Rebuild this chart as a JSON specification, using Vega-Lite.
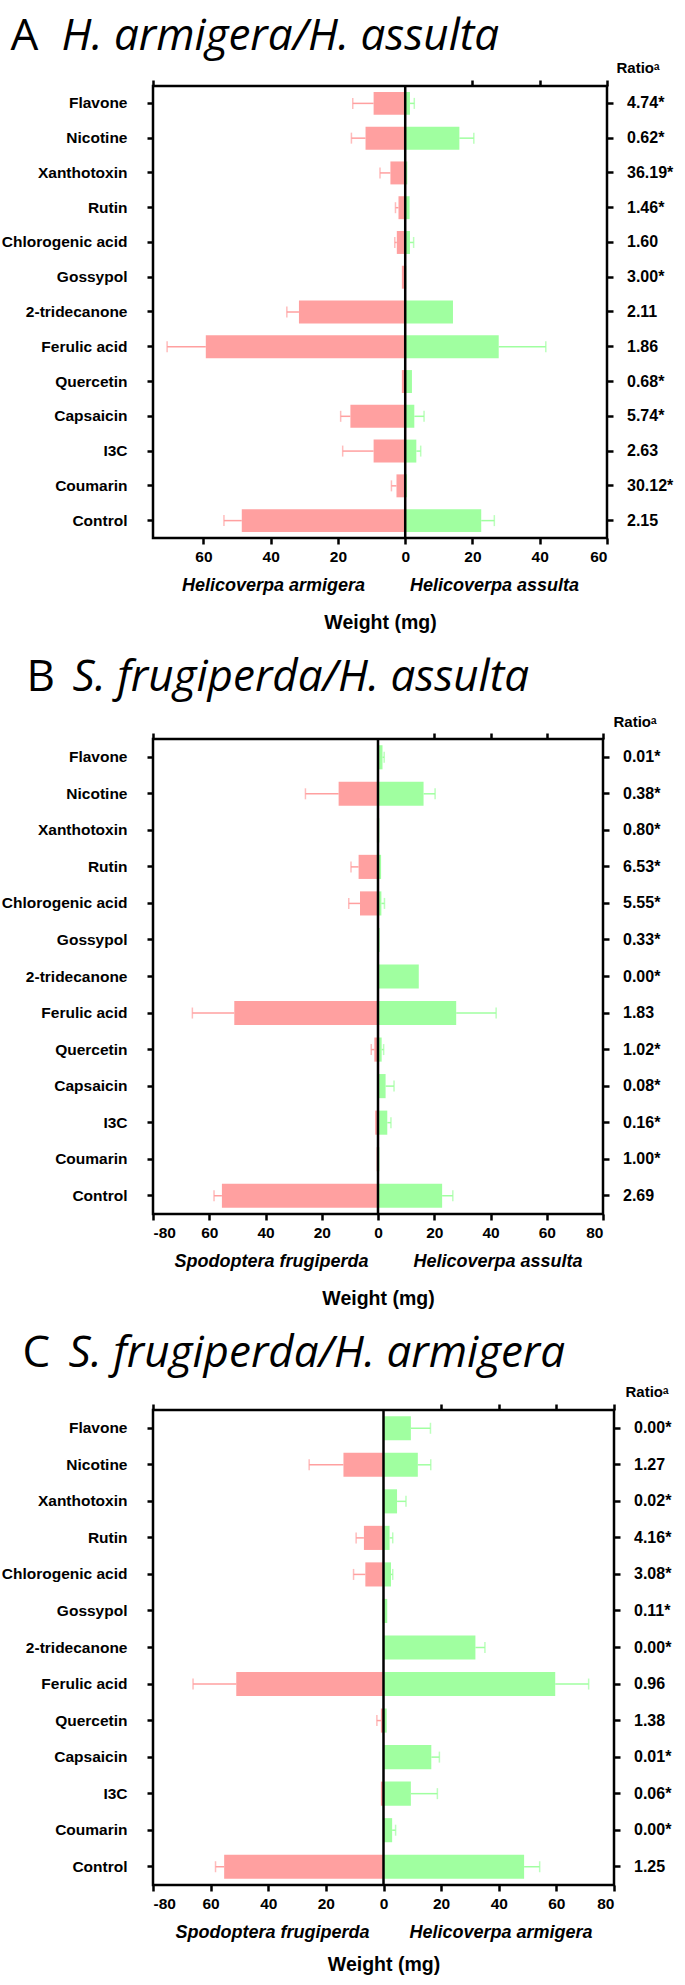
{
"$schema": "https://vega.github.io/schema/vega-lite/v6.json",
"padding": {"left": 0, "top": 12, "right": 0, "bottom": 0},
"background": "white",
"config": {"view": {"stroke": "black", "strokeWidth": 2.5}, "concat": {"spacing": 20}},
"datasets": {
"A": [
{"compound": "Flavone", "side": "L", "w": -9.4, "end": -15.6},
{"compound": "Flavone", "side": "R", "w": 1.4, "end": 2.7},
{"compound": "Nicotine", "side": "L", "w": -11.8, "end": -16.0},
{"compound": "Nicotine", "side": "R", "w": 16.1, "end": 20.4},
{"compound": "Xanthotoxin", "side": "L", "w": -4.4, "end": -7.5},
{"compound": "Xanthotoxin", "side": "R", "w": 0.6, "end": null},
{"compound": "Rutin", "side": "L", "w": -2.0, "end": -2.9},
{"compound": "Rutin", "side": "R", "w": 1.3, "end": null},
{"compound": "Chlorogenic acid", "side": "L", "w": -2.5, "end": -3.1},
{"compound": "Chlorogenic acid", "side": "R", "w": 1.4, "end": 2.5},
{"compound": "Gossypol", "side": "L", "w": -1.0, "end": null},
{"compound": "Gossypol", "side": "R", "w": 0.3, "end": null},
{"compound": "2-tridecanone", "side": "L", "w": -31.6, "end": -35.2},
{"compound": "2-tridecanone", "side": "R", "w": 14.2, "end": null},
{"compound": "Ferulic acid", "side": "L", "w": -59.3, "end": -70.8},
{"compound": "Ferulic acid", "side": "R", "w": 27.8, "end": 41.8},
{"compound": "Quercetin", "side": "L", "w": -1.0, "end": null},
{"compound": "Quercetin", "side": "R", "w": 2.0, "end": null},
{"compound": "Capsaicin", "side": "L", "w": -16.3, "end": -19.2},
{"compound": "Capsaicin", "side": "R", "w": 2.7, "end": 5.6},
{"compound": "I3C", "side": "L", "w": -9.4, "end": -18.6},
{"compound": "I3C", "side": "R", "w": 3.3, "end": 4.6},
{"compound": "Coumarin", "side": "L", "w": -2.6, "end": -4.1},
{"compound": "Coumarin", "side": "R", "w": 0.5, "end": null},
{"compound": "Control", "side": "L", "w": -48.6, "end": -53.9},
{"compound": "Control", "side": "R", "w": 22.6, "end": 26.5}
],
"Ar": [
{"compound": "Flavone", "ratio": "4.74*"},
{"compound": "Nicotine", "ratio": "0.62*"},
{"compound": "Xanthotoxin", "ratio": "36.19*"},
{"compound": "Rutin", "ratio": "1.46*"},
{"compound": "Chlorogenic acid", "ratio": "1.60"},
{"compound": "Gossypol", "ratio": "3.00*"},
{"compound": "2-tridecanone", "ratio": "2.11"},
{"compound": "Ferulic acid", "ratio": "1.86"},
{"compound": "Quercetin", "ratio": "0.68*"},
{"compound": "Capsaicin", "ratio": "5.74*"},
{"compound": "I3C", "ratio": "2.63"},
{"compound": "Coumarin", "ratio": "30.12*"},
{"compound": "Control", "ratio": "2.15"}
],
"B": [
{"compound": "Flavone", "side": "L", "w": 0, "end": null},
{"compound": "Flavone", "side": "R", "w": 1.6, "end": 2.2},
{"compound": "Nicotine", "side": "L", "w": -14.0, "end": -25.8},
{"compound": "Nicotine", "side": "R", "w": 16.2, "end": 20.3},
{"compound": "Xanthotoxin", "side": "L", "w": -0.4, "end": null},
{"compound": "Xanthotoxin", "side": "R", "w": 0.5, "end": null},
{"compound": "Rutin", "side": "L", "w": -6.9, "end": -9.6},
{"compound": "Rutin", "side": "R", "w": 1.1, "end": null},
{"compound": "Chlorogenic acid", "side": "L", "w": -6.4, "end": -10.4},
{"compound": "Chlorogenic acid", "side": "R", "w": 1.2, "end": 2.3},
{"compound": "Gossypol", "side": "L", "w": -0.2, "end": null},
{"compound": "Gossypol", "side": "R", "w": 0.6, "end": null},
{"compound": "2-tridecanone", "side": "L", "w": 0, "end": null},
{"compound": "2-tridecanone", "side": "R", "w": 14.5, "end": null},
{"compound": "Ferulic acid", "side": "L", "w": -51.1, "end": -66.0},
{"compound": "Ferulic acid", "side": "R", "w": 27.8, "end": 42.0},
{"compound": "Quercetin", "side": "L", "w": -1.3, "end": -2.4},
{"compound": "Quercetin", "side": "R", "w": 1.3, "end": 2.0},
{"compound": "Capsaicin", "side": "L", "w": -0.2, "end": null},
{"compound": "Capsaicin", "side": "R", "w": 2.7, "end": 5.7},
{"compound": "I3C", "side": "L", "w": -1.0, "end": null},
{"compound": "I3C", "side": "R", "w": 3.3, "end": 4.6},
{"compound": "Coumarin", "side": "L", "w": -0.5, "end": null},
{"compound": "Coumarin", "side": "R", "w": 0.5, "end": null},
{"compound": "Control", "side": "L", "w": -55.5, "end": -58.3},
{"compound": "Control", "side": "R", "w": 22.8, "end": 26.6}
],
"Br": [
{"compound": "Flavone", "ratio": "0.01*"},
{"compound": "Nicotine", "ratio": "0.38*"},
{"compound": "Xanthotoxin", "ratio": "0.80*"},
{"compound": "Rutin", "ratio": "6.53*"},
{"compound": "Chlorogenic acid", "ratio": "5.55*"},
{"compound": "Gossypol", "ratio": "0.33*"},
{"compound": "2-tridecanone", "ratio": "0.00*"},
{"compound": "Ferulic acid", "ratio": "1.83"},
{"compound": "Quercetin", "ratio": "1.02*"},
{"compound": "Capsaicin", "ratio": "0.08*"},
{"compound": "I3C", "ratio": "0.16*"},
{"compound": "Coumarin", "ratio": "1.00*"},
{"compound": "Control", "ratio": "2.69"}
],
"C": [
{"compound": "Flavone", "side": "L", "w": 0, "end": null},
{"compound": "Flavone", "side": "R", "w": 9.5, "end": 16.3},
{"compound": "Nicotine", "side": "L", "w": -13.9, "end": -25.8},
{"compound": "Nicotine", "side": "R", "w": 11.9, "end": 16.4},
{"compound": "Xanthotoxin", "side": "L", "w": 0, "end": null},
{"compound": "Xanthotoxin", "side": "R", "w": 4.7, "end": 7.8},
{"compound": "Rutin", "side": "L", "w": -6.8, "end": -9.5},
{"compound": "Rutin", "side": "R", "w": 2.1, "end": 3.2},
{"compound": "Chlorogenic acid", "side": "L", "w": -6.3, "end": -10.4},
{"compound": "Chlorogenic acid", "side": "R", "w": 2.6, "end": 3.2},
{"compound": "Gossypol", "side": "L", "w": -0.3, "end": null},
{"compound": "Gossypol", "side": "R", "w": 1.3, "end": null},
{"compound": "2-tridecanone", "side": "L", "w": 0, "end": null},
{"compound": "2-tridecanone", "side": "R", "w": 31.9, "end": 35.2},
{"compound": "Ferulic acid", "side": "L", "w": -51.1, "end": -66.1},
{"compound": "Ferulic acid", "side": "R", "w": 59.6, "end": 71.2},
{"compound": "Quercetin", "side": "L", "w": -0.9, "end": -2.3},
{"compound": "Quercetin", "side": "R", "w": 1.1, "end": null},
{"compound": "Capsaicin", "side": "L", "w": 0, "end": null},
{"compound": "Capsaicin", "side": "R", "w": 16.6, "end": 19.4},
{"compound": "I3C", "side": "L", "w": -0.9, "end": null},
{"compound": "I3C", "side": "R", "w": 9.5, "end": 18.7},
{"compound": "Coumarin", "side": "L", "w": 0, "end": null},
{"compound": "Coumarin", "side": "R", "w": 3.0, "end": 4.2},
{"compound": "Control", "side": "L", "w": -55.3, "end": -58.3},
{"compound": "Control", "side": "R", "w": 48.8, "end": 54.2}
],
"Cr": [
{"compound": "Flavone", "ratio": "0.00*"},
{"compound": "Nicotine", "ratio": "1.27"},
{"compound": "Xanthotoxin", "ratio": "0.02*"},
{"compound": "Rutin", "ratio": "4.16*"},
{"compound": "Chlorogenic acid", "ratio": "3.08*"},
{"compound": "Gossypol", "ratio": "0.11*"},
{"compound": "2-tridecanone", "ratio": "0.00*"},
{"compound": "Ferulic acid", "ratio": "0.96"},
{"compound": "Quercetin", "ratio": "1.38"},
{"compound": "Capsaicin", "ratio": "0.01*"},
{"compound": "I3C", "ratio": "0.06*"},
{"compound": "Coumarin", "ratio": "0.00*"},
{"compound": "Control", "ratio": "1.25"}
]
},
"vconcat": [
{
"width": 454, "height": 452,
"resolve": {"scale": {"x": "shared", "y": "shared", "color": "shared"}, "axis": {"x": "independent", "y": "independent"}},
"layer": [
{"data": {"name": "A"}, "mark": {"type": "bar"}, "encoding": {
"y": {"field": "compound", "type": "nominal", "sort": ["Flavone","Nicotine","Xanthotoxin","Rutin","Chlorogenic acid","Gossypol","2-tridecanone","Ferulic acid","Quercetin","Capsaicin","I3C","Coumarin","Control"], "scale": {"paddingInner": 0.34, "paddingOuter": 0.17}, "axis": {"orient": "left", "domain": false, "tickSize": 6, "tickWidth": 2.5, "tickColor": "black", "labelPadding": 20, "labelFont": "Liberation Sans", "labelFontSize": 15.5, "labelFontWeight": "bold", "labelColor": "black", "title": "A", "titleAngle": 0, "titleAlign": "left", "titleBaseline": "alphabetic", "titleX": -143, "titleY": -37, "titleFont": "Open Sans", "titleFontSize": 44, "titleFontWeight": "normal", "titleColor": "black"}},
"x": {"field": "w", "type": "quantitative", "scale": {"domain": [-75, 60], "nice": false, "zero": false}, "axis": {"orient": "bottom", "values": [-60,-40,-20,0,20,40,60], "labelExpr": "format(abs(datum.value), 'd')", "grid": false, "domain": false, "tickSize": 6, "tickWidth": 2.5, "tickColor": "black", "labelPadding": 5, "labelFont": "Liberation Sans", "labelFontSize": 15.5, "labelFontWeight": "bold", "labelColor": "black", "title": "Helicoverpa armigera\u00a0\u00a0\u00a0\u00a0\u00a0\u00a0\u00a0\u00a0\u00a0Helicoverpa assulta", "titleFont": "Liberation Sans", "titleFontSize": 18, "titleFontStyle": "italic", "titleFontWeight": "bold", "titlePadding": 12, "titleColor": "black"}},
"x2": {"datum": 0},
"color": {"field": "side", "type": "nominal", "scale": {"domain": ["L","R"], "range": ["#FFA0A0","#A0FFA0"]}, "legend": null}
}},
{"data": {"name": "A"}, "transform": [{"filter": "isValid(datum.end)"}], "mark": {"type": "rule", "strokeWidth": 1.5}, "encoding": {
"y": {"field": "compound", "type": "nominal", "sort": ["Flavone","Nicotine","Xanthotoxin","Rutin","Chlorogenic acid","Gossypol","2-tridecanone","Ferulic acid","Quercetin","Capsaicin","I3C","Coumarin","Control"], "axis": null},
"x": {"field": "w", "type": "quantitative", "axis": null}, "x2": {"field": "end"},
"color": {"field": "side", "type": "nominal", "legend": null}}},
{"data": {"name": "A"}, "transform": [{"filter": "isValid(datum.end)"}], "mark": {"type": "tick", "thickness": 1.5, "size": 11}, "encoding": {
"y": {"field": "compound", "type": "nominal", "sort": ["Flavone","Nicotine","Xanthotoxin","Rutin","Chlorogenic acid","Gossypol","2-tridecanone","Ferulic acid","Quercetin","Capsaicin","I3C","Coumarin","Control"], "axis": null},
"x": {"field": "end", "type": "quantitative", "axis": null},
"color": {"field": "side", "type": "nominal", "legend": null}}},
{"data": {"values": [{}]}, "mark": {"type": "rule", "strokeWidth": 2.5, "color": "black"}, "encoding": {
"x": {"datum": 0, "type": "quantitative", "axis": {"orient": "top", "values": [-75,20,40,60], "labels": false, "domain": false, "grid": false, "tickSize": 6, "tickWidth": 2.5, "tickColor": "black", "title": "H. armigera/H. assulta", "titleAngle": 0, "titleAlign": "left", "titleBaseline": "alphabetic", "titleX": -92, "titleY": -37, "titleFont": "Open Sans", "titleFontSize": 44, "titleFontStyle": "italic", "titleFontWeight": "normal", "titleColor": "black"}}}},
{"data": {"name": "Ar"}, "mark": {"type": "text", "align": "left", "dx": 20, "font": "Liberation Sans", "fontSize": 16, "fontWeight": "bold", "color": "black"}, "encoding": {
"y": {"field": "compound", "type": "nominal", "sort": ["Flavone","Nicotine","Xanthotoxin","Rutin","Chlorogenic acid","Gossypol","2-tridecanone","Ferulic acid","Quercetin","Capsaicin","I3C","Coumarin","Control"], "axis": {"orient": "right", "labels": false, "domain": false, "grid": false, "tickSize": 6, "tickWidth": 2.5, "tickColor": "black", "title": "Ratioᵃ", "titleAngle": 0, "titleAlign": "left", "titleBaseline": "alphabetic", "titleX": 9, "titleY": -14, "titleFont": "Liberation Sans", "titleFontSize": 15, "titleFontWeight": "bold", "titleColor": "black"}},
"x": {"datum": 60, "type": "quantitative", "axis": {"orient": "bottom", "labels": false, "ticks": false, "domain": false, "grid": false, "title": "Weight (mg)", "titlePadding": 75, "titleFont": "Liberation Sans", "titleFontSize": 19.5, "titleFontWeight": "bold", "titleColor": "black"}},
"text": {"field": "ratio"}}}
]
},
{
"width": 450, "height": 475,
"resolve": {"scale": {"x": "shared", "y": "shared", "color": "shared"}, "axis": {"x": "independent", "y": "independent"}},
"layer": [
{"data": {"name": "B"}, "mark": {"type": "bar"}, "encoding": {
"y": {"field": "compound", "type": "nominal", "sort": ["Flavone","Nicotine","Xanthotoxin","Rutin","Chlorogenic acid","Gossypol","2-tridecanone","Ferulic acid","Quercetin","Capsaicin","I3C","Coumarin","Control"], "scale": {"paddingInner": 0.34, "paddingOuter": 0.17}, "axis": {"orient": "left", "domain": false, "tickSize": 6, "tickWidth": 2.5, "tickColor": "black", "labelPadding": 20, "labelFont": "Liberation Sans", "labelFontSize": 15.5, "labelFontWeight": "bold", "labelColor": "black", "title": "B", "titleAngle": 0, "titleAlign": "left", "titleBaseline": "alphabetic", "titleX": -127, "titleY": -49, "titleFont": "Open Sans", "titleFontSize": 44, "titleFontWeight": "normal", "titleColor": "black"}},
"x": {"field": "w", "type": "quantitative", "scale": {"domain": [-80, 80], "nice": false, "zero": false}, "axis": {"orient": "bottom", "values": [-80,-60,-40,-20,0,20,40,60,80], "labelExpr": "datum.value == -80 ? '-80' : format(abs(datum.value), 'd')", "grid": false, "domain": false, "tickSize": 6, "tickWidth": 2.5, "tickColor": "black", "labelPadding": 5, "labelFont": "Liberation Sans", "labelFontSize": 15.5, "labelFontWeight": "bold", "labelColor": "black", "title": "Spodoptera frugiperda\u00a0\u00a0\u00a0\u00a0\u00a0\u00a0\u00a0\u00a0\u00a0Helicoverpa assulta", "titleFont": "Liberation Sans", "titleFontSize": 18, "titleFontStyle": "italic", "titleFontWeight": "bold", "titlePadding": 12, "titleColor": "black"}},
"x2": {"datum": 0},
"color": {"field": "side", "type": "nominal", "scale": {"domain": ["L","R"], "range": ["#FFA0A0","#A0FFA0"]}, "legend": null}
}},
{"data": {"name": "B"}, "transform": [{"filter": "isValid(datum.end)"}], "mark": {"type": "rule", "strokeWidth": 1.5}, "encoding": {
"y": {"field": "compound", "type": "nominal", "sort": ["Flavone","Nicotine","Xanthotoxin","Rutin","Chlorogenic acid","Gossypol","2-tridecanone","Ferulic acid","Quercetin","Capsaicin","I3C","Coumarin","Control"], "axis": null},
"x": {"field": "w", "type": "quantitative", "axis": null}, "x2": {"field": "end"},
"color": {"field": "side", "type": "nominal", "legend": null}}},
{"data": {"name": "B"}, "transform": [{"filter": "isValid(datum.end)"}], "mark": {"type": "tick", "thickness": 1.5, "size": 11}, "encoding": {
"y": {"field": "compound", "type": "nominal", "sort": ["Flavone","Nicotine","Xanthotoxin","Rutin","Chlorogenic acid","Gossypol","2-tridecanone","Ferulic acid","Quercetin","Capsaicin","I3C","Coumarin","Control"], "axis": null},
"x": {"field": "end", "type": "quantitative", "axis": null},
"color": {"field": "side", "type": "nominal", "legend": null}}},
{"data": {"values": [{}]}, "mark": {"type": "rule", "strokeWidth": 2.5, "color": "black"}, "encoding": {
"x": {"datum": 0, "type": "quantitative", "axis": {"orient": "top", "values": [-80,20,40,60,80], "labels": false, "domain": false, "grid": false, "tickSize": 6, "tickWidth": 2.5, "tickColor": "black", "title": "S. frugiperda/H. assulta", "titleAngle": 0, "titleAlign": "left", "titleBaseline": "alphabetic", "titleX": -81, "titleY": -49, "titleFont": "Open Sans", "titleFontSize": 44, "titleFontStyle": "italic", "titleFontWeight": "normal", "titleColor": "black"}}}},
{"data": {"name": "Br"}, "mark": {"type": "text", "align": "left", "dx": 20, "font": "Liberation Sans", "fontSize": 16, "fontWeight": "bold", "color": "black"}, "encoding": {
"y": {"field": "compound", "type": "nominal", "sort": ["Flavone","Nicotine","Xanthotoxin","Rutin","Chlorogenic acid","Gossypol","2-tridecanone","Ferulic acid","Quercetin","Capsaicin","I3C","Coumarin","Control"], "axis": {"orient": "right", "labels": false, "domain": false, "grid": false, "tickSize": 6, "tickWidth": 2.5, "tickColor": "black", "title": "Ratioᵃ", "titleAngle": 0, "titleAlign": "left", "titleBaseline": "alphabetic", "titleX": 10, "titleY": -13, "titleFont": "Liberation Sans", "titleFontSize": 15, "titleFontWeight": "bold", "titleColor": "black"}},
"x": {"datum": 80, "type": "quantitative", "axis": {"orient": "bottom", "labels": false, "ticks": false, "domain": false, "grid": false, "title": "Weight (mg)", "titlePadding": 75, "titleFont": "Liberation Sans", "titleFontSize": 19.5, "titleFontWeight": "bold", "titleColor": "black"}},
"text": {"field": "ratio"}}}
]
},
{
"width": 461, "height": 475,
"resolve": {"scale": {"x": "shared", "y": "shared", "color": "shared"}, "axis": {"x": "independent", "y": "independent"}},
"layer": [
{"data": {"name": "C"}, "mark": {"type": "bar"}, "encoding": {
"y": {"field": "compound", "type": "nominal", "sort": ["Flavone","Nicotine","Xanthotoxin","Rutin","Chlorogenic acid","Gossypol","2-tridecanone","Ferulic acid","Quercetin","Capsaicin","I3C","Coumarin","Control"], "scale": {"paddingInner": 0.34, "paddingOuter": 0.17}, "axis": {"orient": "left", "domain": false, "tickSize": 6, "tickWidth": 2.5, "tickColor": "black", "labelPadding": 20, "labelFont": "Liberation Sans", "labelFontSize": 15.5, "labelFontWeight": "bold", "labelColor": "black", "title": "C", "titleAngle": 0, "titleAlign": "left", "titleBaseline": "alphabetic", "titleX": -131, "titleY": -44, "titleFont": "Open Sans", "titleFontSize": 44, "titleFontWeight": "normal", "titleColor": "black"}},
"x": {"field": "w", "type": "quantitative", "scale": {"domain": [-80, 80], "nice": false, "zero": false}, "axis": {"orient": "bottom", "values": [-80,-60,-40,-20,0,20,40,60,80], "labelExpr": "datum.value == -80 ? '-80' : format(abs(datum.value), 'd')", "grid": false, "domain": false, "tickSize": 6, "tickWidth": 2.5, "tickColor": "black", "labelPadding": 5, "labelFont": "Liberation Sans", "labelFontSize": 15.5, "labelFontWeight": "bold", "labelColor": "black", "title": "Spodoptera frugiperda\u00a0\u00a0\u00a0\u00a0\u00a0\u00a0\u00a0\u00a0Helicoverpa armigera", "titleFont": "Liberation Sans", "titleFontSize": 18, "titleFontStyle": "italic", "titleFontWeight": "bold", "titlePadding": 12, "titleColor": "black"}},
"x2": {"datum": 0},
"color": {"field": "side", "type": "nominal", "scale": {"domain": ["L","R"], "range": ["#FFA0A0","#A0FFA0"]}, "legend": null}
}},
{"data": {"name": "C"}, "transform": [{"filter": "isValid(datum.end)"}], "mark": {"type": "rule", "strokeWidth": 1.5}, "encoding": {
"y": {"field": "compound", "type": "nominal", "sort": ["Flavone","Nicotine","Xanthotoxin","Rutin","Chlorogenic acid","Gossypol","2-tridecanone","Ferulic acid","Quercetin","Capsaicin","I3C","Coumarin","Control"], "axis": null},
"x": {"field": "w", "type": "quantitative", "axis": null}, "x2": {"field": "end"},
"color": {"field": "side", "type": "nominal", "legend": null}}},
{"data": {"name": "C"}, "transform": [{"filter": "isValid(datum.end)"}], "mark": {"type": "tick", "thickness": 1.5, "size": 11}, "encoding": {
"y": {"field": "compound", "type": "nominal", "sort": ["Flavone","Nicotine","Xanthotoxin","Rutin","Chlorogenic acid","Gossypol","2-tridecanone","Ferulic acid","Quercetin","Capsaicin","I3C","Coumarin","Control"], "axis": null},
"x": {"field": "end", "type": "quantitative", "axis": null},
"color": {"field": "side", "type": "nominal", "legend": null}}},
{"data": {"values": [{}]}, "mark": {"type": "rule", "strokeWidth": 2.5, "color": "black"}, "encoding": {
"x": {"datum": 0, "type": "quantitative", "axis": {"orient": "top", "values": [-80,20,40,60,80], "labels": false, "domain": false, "grid": false, "tickSize": 6, "tickWidth": 2.5, "tickColor": "black", "title": "S. frugiperda/H. armigera", "titleAngle": 0, "titleAlign": "left", "titleBaseline": "alphabetic", "titleX": -85, "titleY": -44, "titleFont": "Open Sans", "titleFontSize": 44, "titleFontStyle": "italic", "titleFontWeight": "normal", "titleColor": "black"}}}},
{"data": {"name": "Cr"}, "mark": {"type": "text", "align": "left", "dx": 20, "font": "Liberation Sans", "fontSize": 16, "fontWeight": "bold", "color": "black"}, "encoding": {
"y": {"field": "compound", "type": "nominal", "sort": ["Flavone","Nicotine","Xanthotoxin","Rutin","Chlorogenic acid","Gossypol","2-tridecanone","Ferulic acid","Quercetin","Capsaicin","I3C","Coumarin","Control"], "axis": {"orient": "right", "labels": false, "domain": false, "grid": false, "tickSize": 6, "tickWidth": 2.5, "tickColor": "black", "title": "Ratioᵃ", "titleAngle": 0, "titleAlign": "left", "titleBaseline": "alphabetic", "titleX": 11, "titleY": -14, "titleFont": "Liberation Sans", "titleFontSize": 15, "titleFontWeight": "bold", "titleColor": "black"}},
"x": {"datum": 80, "type": "quantitative", "axis": {"orient": "bottom", "labels": false, "ticks": false, "domain": false, "grid": false, "title": "Weight (mg)", "titlePadding": 70, "titleFont": "Liberation Sans", "titleFontSize": 19.5, "titleFontWeight": "bold", "titleColor": "black"}},
"text": {"field": "ratio"}}}
]
}
]
}
